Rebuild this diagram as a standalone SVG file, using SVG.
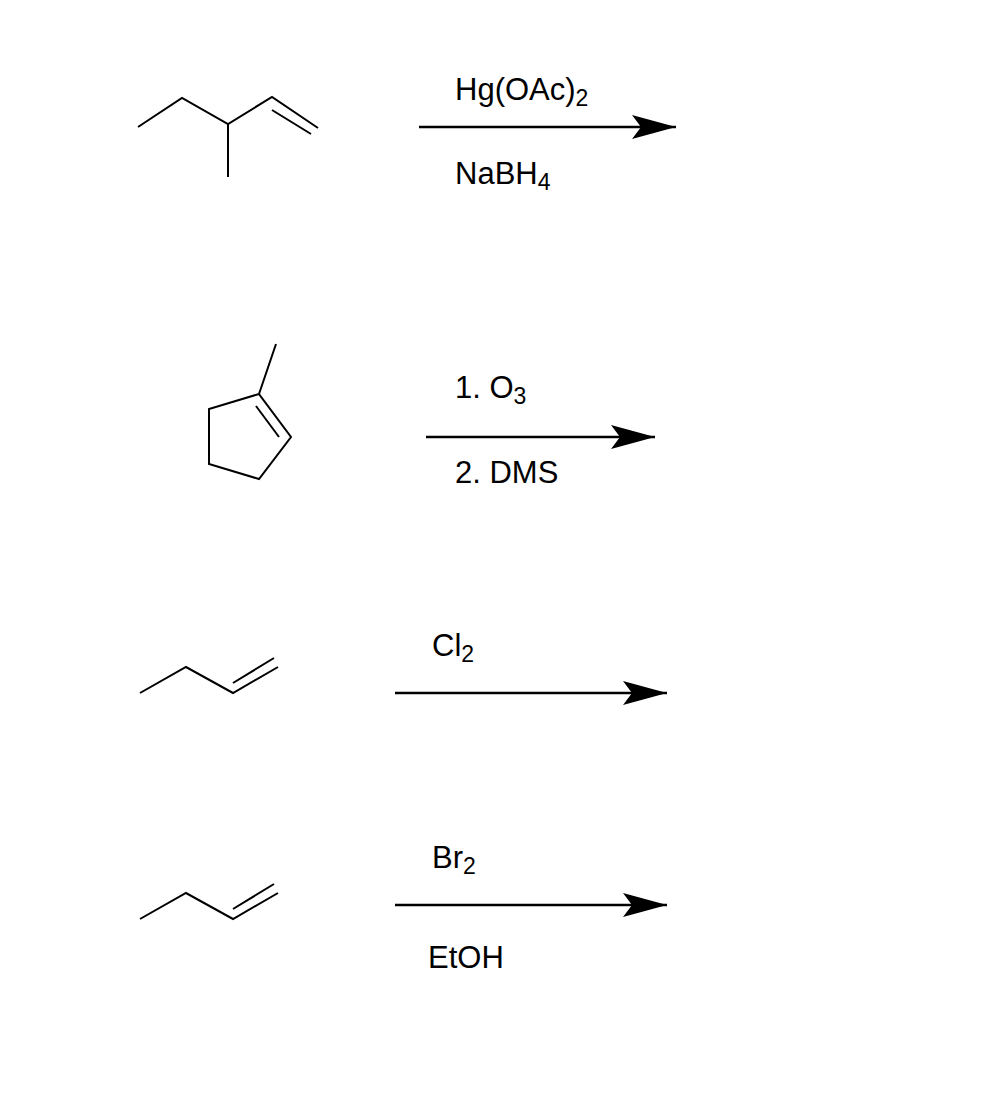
<svg xmlns="http://www.w3.org/2000/svg" width="1008" height="1114" viewBox="0 0 1008 1114">
<defs>
<style>
.b{fill:none;stroke:#000;stroke-width:2;stroke-linejoin:miter}
.t{font-family:"Liberation Sans",Arial,sans-serif;font-size:31px;fill:#000}
.s{font-size:23px}
.a{stroke:#000;stroke-width:2.4}
</style>
<marker id="ah" markerWidth="46" markerHeight="24" refX="44" refY="12" orient="auto" markerUnits="userSpaceOnUse">
<path d="M0,0 L44,12 L0,24 L9,12 Z" fill="#000"/>
</marker>
</defs>
<rect width="1008" height="1114" fill="#fff"/>
<g id="mol1"><polyline class="b" points="138,127 182,98 228,124 272,97 318,128"/><line class="b" x1="228" y1="124" x2="228" y2="177"/><line class="b" x1="272" y1="110" x2="311" y2="134"/></g>
<g id="mol2"><polyline class="b" points="276,344 259,394 291,437 259,479 209,464 209,409 259,394"/><line class="b" x1="256" y1="406" x2="279" y2="437"/></g>
<g id="mol3"><polyline class="b" points="140,693 186,667 233,693 278,667"/><line class="b" x1="233" y1="683" x2="274" y2="658"/></g>
<g id="mol4"><polyline class="b" points="140,919 186,893 233,919 278,893"/><line class="b" x1="233" y1="909" x2="274" y2="884"/></g>
<g id="connectors">
<line class="a" x1="419" y1="127" x2="676" y2="127" marker-end="url(#ah)"/>
<line class="a" x1="426" y1="437" x2="655" y2="437" marker-end="url(#ah)"/>
<line class="a" x1="395" y1="693" x2="667" y2="693" marker-end="url(#ah)"/>
<line class="a" x1="395" y1="905" x2="667" y2="905" marker-end="url(#ah)"/>
</g>
<g id="labels">
<text class="t" x="455" y="100">Hg(OAc)<tspan class="s" dy="6">2</tspan></text>
<text class="t" x="455" y="184">NaBH<tspan class="s" dy="6">4</tspan></text>
<text class="t" x="455" y="398">1. O<tspan class="s" dy="6">3</tspan></text>
<text class="t" x="455" y="483">2. DMS</text>
<text class="t" x="432" y="656">Cl<tspan class="s" dy="6">2</tspan></text>
<text class="t" x="432" y="868">Br<tspan class="s" dy="6">2</tspan></text>
<text class="t" x="428" y="968">EtOH</text>
</g>
</svg>
